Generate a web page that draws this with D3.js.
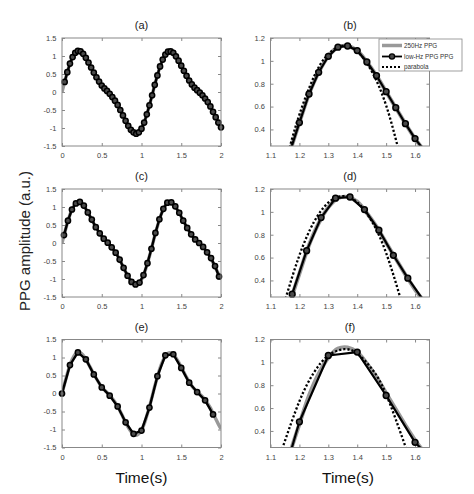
<!DOCTYPE html>
<html>
<head>
<meta charset="utf-8">
<script src="https://cdn.jsdelivr.net/npm/d3@7"></script>
<style>
  body { margin: 0; background: #fff; }
  text { font-family: "Liberation Sans", Arial, sans-serif; }
</style>
</head>
<body>
<div id="chart"></div>
<script>
// reference PPG, read on a 1/30 s grid (0 .. 2 s); the 30 Hz markers are the same samples from t = 1/30
const refRate = 30;
const refValues = [
  0.00, 0.28, 0.55, 0.79, 0.97, 1.09, 1.14, 1.13, 1.06, 0.95,
  0.82, 0.68, 0.54, 0.41, 0.29, 0.18, 0.10, 0.03, -0.05, -0.14,
  -0.24, -0.36, -0.50, -0.65, -0.80, -0.94, -1.05, -1.12, -1.16, -1.12,
  -1.02, -0.85, -0.62, -0.37, -0.09, 0.20, 0.46, 0.71, 0.90, 1.04,
  1.12, 1.13, 1.09, 0.99, 0.87, 0.73, 0.59, 0.45, 0.32, 0.21,
  0.12, 0.05, -0.02, -0.09, -0.18, -0.28, -0.40, -0.55, -0.70, -0.85,
  -0.98
];

// 20 Hz samples, first one at 0.025 s
const start20 = 0.025;
const values20 = [
  0.22, 0.62, 0.93, 1.10, 1.14, 1.04, 0.85, 0.65, 0.44, 0.27,
  0.12, 0.01, -0.12, -0.27, -0.46, -0.69, -0.91, -1.08, -1.15, -1.10,
  -0.89, -0.56, -0.16, 0.28, 0.66, 0.95, 1.12, 1.13, 1.02, 0.84,
  0.62, 0.42, 0.24, 0.10, 0.00, -0.11, -0.26, -0.42, -0.64, -0.93
];

// 10 Hz samples, first one at 0 s
const values10 = [0, 0.79, 1.14, 0.95, 0.53, 0.17, -0.06, -0.36, -0.80, -1.12,
  -1.03, -0.39, 0.48, 1.06, 1.09, 0.71, 0.30, 0.04, -0.19, -0.58];

// parabola fits around the second peak [time, amplitude]
const parabolaB = [[1.166, 0.24], [1.2, 0.53], [1.25, 0.86], [1.3, 1.06], [1.355, 1.135],
  [1.4, 1.085], [1.45, 0.91], [1.5, 0.61], [1.541, 0.24]];
const parabolaD = [[1.152, 0.24], [1.2, 0.62], [1.25, 0.91], [1.3, 1.08], [1.351, 1.138],
  [1.4, 1.084], [1.45, 0.92], [1.5, 0.64], [1.55, 0.24]];
const parabolaF = [[1.14, 0.24], [1.2, 0.66], [1.25, 0.91], [1.3, 1.06], [1.355, 1.115],
  [1.4, 1.077], [1.45, 0.945], [1.5, 0.72], [1.57, 0.24]];

const titles = ["(a)", "(b)", "(c)", "(d)", "(e)", "(f)"];
const fullTicksX = [0, 0.5, 1, 1.5, 2];
const fullTicksY = [-1.5, -1, -0.5, 0, 0.5, 1, 1.5];
const zoomTicksX = [1.1, 1.2, 1.3, 1.4, 1.5, 1.6];
const zoomTicksY = [0.4, 0.6, 0.8, 1, 1.2];
const legendLabels = ["250Hz PPG", "low-Hz PPG PPG", "parabola"];

const width = 474, height = 494;
const pw = 159, ph = 108;
const colsX = [62, 270.5];
const rowsY = [38, 189, 339.5];

const refData = refValues.map((v, i) => [i / refRate, v]);
const data30 = refData.slice(1);
const data20 = values20.map((v, i) => [start20 + i * 0.05, v]);
const data10 = values10.map((v, i) => [i * 0.1, v]);

const svg = d3.select("#chart").append("svg")
  .attr("width", width)
  .attr("height", height);

const panels = [
  { samples: data30, parabola: parabolaB },
  { samples: data20, parabola: parabolaD },
  { samples: data10, parabola: parabolaF }
];

panels.forEach((p, row) => {
  drawPanel(0, row, p.samples, null);
  drawPanel(1, row, p.samples, p.parabola);
});

function drawPanel(col, row, samples, parabola) {
  const zoom = col === 1;
  const x0 = colsX[col], y0 = rowsY[row];
  const x = d3.scaleLinear().domain(zoom ? [1.1, 1.65] : [0, 2]).range([0, pw]);
  const y = d3.scaleLinear().domain(zoom ? [0.255, 1.2] : [-1.5, 1.5]).range([ph, 0]);
  const xt = zoom ? zoomTicksX : fullTicksX;
  const yt = zoom ? zoomTicksY : fullTicksY;
  const id = "clip" + row + col;

  const g = svg.append("g").attr("transform", `translate(${x0},${y0})`);
  g.append("clipPath").attr("id", id)
    .append("rect").attr("width", pw).attr("height", ph);

  // ticks on all four sides, pointing in
  const fmt = d => String(d);
  const styleAxis = a => {
    a.select(".domain").remove();
    a.selectAll("line").attr("stroke", "#888");
    a.selectAll("text").attr("fill", "#444").style("font-size", "7.5px");
  };
  g.append("g").attr("transform", `translate(0,${ph})`)
    .call(d3.axisBottom(x).tickValues(xt).tickFormat(fmt).tickSizeInner(-3).tickSizeOuter(0).tickPadding(7))
    .call(styleAxis);
  g.append("g")
    .call(d3.axisLeft(y).tickValues(yt).tickFormat(fmt).tickSizeInner(-3).tickSizeOuter(0).tickPadding(5.5))
    .call(styleAxis);
  g.append("g")
    .call(d3.axisTop(x).tickValues(xt).tickFormat("").tickSizeInner(-3).tickSizeOuter(0))
    .call(styleAxis);
  g.append("g").attr("transform", `translate(${pw},0)`)
    .call(d3.axisRight(y).tickValues(yt).tickFormat("").tickSizeInner(-3).tickSizeOuter(0))
    .call(styleAxis);

  const plot = g.append("g").attr("clip-path", `url(#${id})`);
  const smooth = d3.line().x(d => x(d[0])).y(d => y(d[1])).curve(d3.curveCatmullRom);
  const straight = d3.line().x(d => x(d[0])).y(d => y(d[1]));

  plot.append("path").attr("d", smooth(refData))
    .attr("fill", "none").attr("stroke", "#999").attr("stroke-width", zoom ? 4 : 3.4);
  plot.append("path").attr("d", straight(samples))
    .attr("fill", "none").attr("stroke", "#000").attr("stroke-width", zoom ? 2.2 : 2.4)
    .attr("stroke-linejoin", "round");
  if (parabola) {
    plot.append("path").attr("d", d3.line().x(d => x(d[0])).y(d => y(d[1])).curve(d3.curveNatural)(parabola))
      .attr("fill", "none").attr("stroke", "#000").attr("stroke-width", 2.3)
      .attr("stroke-dasharray", "2.2,2");
  }

  // markers are kept whole, but only for points inside the axes
  const xd = x.domain(), yd = y.domain();
  g.selectAll(".mk").data(samples.filter(d => d[0] >= xd[0] && d[0] <= xd[1] && d[1] >= yd[0] && d[1] <= yd[1]))
    .enter().append("circle")
    .attr("class", "mk")
    .attr("cx", d => x(d[0]))
    .attr("cy", d => y(d[1]))
    .attr("r", zoom ? 2.9 : 2.6)
    .attr("fill", "#4a4a4a")
    .attr("stroke", "#000")
    .attr("stroke-width", 1.5);

  g.append("rect").attr("width", pw).attr("height", ph)
    .attr("fill", "none").attr("stroke", "#888").attr("stroke-width", 1);

  g.append("text").attr("x", pw / 2).attr("y", -9)
    .attr("text-anchor", "middle").attr("fill", "#222").style("font-size", "11px")
    .text(titles[row * 2 + col]);

  if (zoom && row === 0) drawLegend();
}

function drawLegend() {
  const lg = svg.append("g").attr("transform", "translate(379,39)");
  lg.append("rect").attr("width", 83).attr("height", 32)
    .attr("fill", "#fff").attr("stroke", "#888").attr("stroke-width", 0.8);
  const rowsLg = [6.5, 17.5, 28];
  legendLabels.forEach((label, i) => {
    const ly = rowsLg[i];
    const ln = lg.append("line").attr("x1", 3).attr("x2", 23).attr("y1", ly).attr("y2", ly);
    if (i === 0) ln.attr("stroke", "#999").attr("stroke-width", 3.5);
    if (i === 1) {
      ln.attr("stroke", "#000").attr("stroke-width", 1.8);
      lg.append("circle").attr("cx", 13).attr("cy", ly).attr("r", 2.6)
        .attr("fill", "#4a4a4a").attr("stroke", "#000").attr("stroke-width", 1.3);
    }
    if (i === 2) ln.attr("stroke", "#000").attr("stroke-width", 2).attr("stroke-dasharray", "2,2");
    lg.append("text").attr("x", 25).attr("y", ly + 2.2)
      .attr("fill", "#333").style("font-size", "6.3px").text(label);
  });
}

svg.append("text")
  .attr("transform", "translate(30,241) rotate(-90)")
  .attr("text-anchor", "middle").attr("fill", "#222").style("font-size", "15px")
  .text("PPG amplitude (a.u.)");

[colsX[0] + pw / 2, colsX[1] + pw / 2 - 2].forEach(cx => {
  svg.append("text").attr("x", cx).attr("y", 483)
    .attr("text-anchor", "middle").attr("fill", "#111").style("font-size", "15.5px")
    .text("Time(s)");
});
</script>
</body>
</html>
